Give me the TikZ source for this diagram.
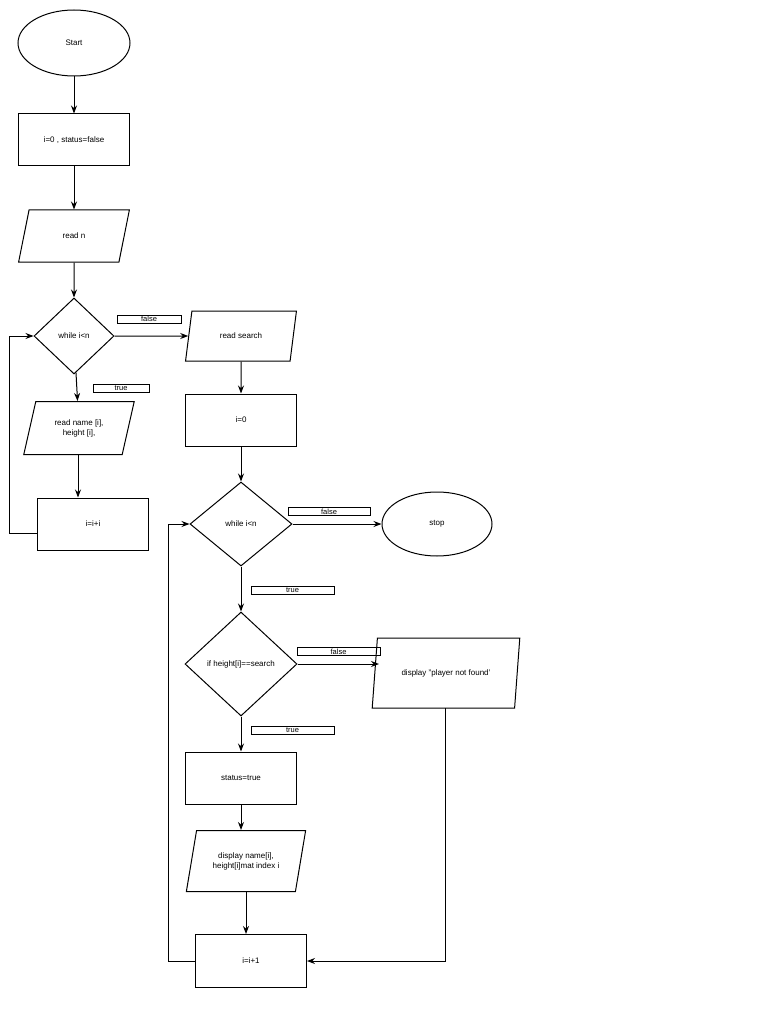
\documentclass[tikz,border=0pt]{standalone}
\usepackage{fontspec}
\setmainfont{Liberation Sans}
\usetikzlibrary{arrows.meta,shapes.geometric,positioning}

\tikzset{
  base/.style={draw, line width=1pt, font=\fontsize{8}{10}\selectfont, align=center, inner sep=1pt},
  term/.style={base, ellipse, minimum width=112pt, minimum height=66pt},
  proc/.style={base, rectangle, minimum width=111pt, minimum height=52pt},
  io/.style={base, trapezium, trapezium left angle=70, trapezium right angle=110,
    trapezium stretches=true, minimum width=111pt, minimum height=52pt},
  dec/.style={base, diamond, inner sep=0pt},
  tag/.style={draw, line width=0.8pt, font=\fontsize{7.5}{8}\selectfont, inner sep=0pt,
    minimum height=8pt, text depth=0pt},
  flow/.style={line width=1pt, -{Stealth[length=8pt,width=6pt]}}
}

\begin{document}
\begin{tikzpicture}[x=1pt,y=-1pt]
  \useasboundingbox (0,0) rectangle (768,1024);

  % left column
  \node[term] (start) at (74,43) {Start};
  \node[proc] (init) at (74,140) {i=0 , status=false};
  \node[io] (readn) at (74,236) {read n};
  \node[dec, minimum width=80pt, minimum height=76pt, label={center:\fontsize{8}{10}\selectfont while i\textless n}] (loopa) at (74,336) {};
  \node[io, minimum height=53pt] (readname) at (79,428) {read name [i],\\height [i],};
  \node[proc] (inca) at (93,524) {i=i+i};

  % right column
  \node[io, minimum height=50pt] (readsearch) at (241,336) {read search};
  \node[proc] (reset) at (241,420) {i=0};
  \node[dec, minimum width=102pt, minimum height=84pt, label={center:\fontsize{8}{10}\selectfont while i\textless n}] (loopb) at (241,524) {};
  \node[term, minimum width=110pt, minimum height=64pt] (stop) at (437,524) {stop};
  \node[dec, minimum width=112pt, minimum height=104pt, label={center:\fontsize{8}{10}\selectfont if height[i]==search}] (check) at (241,664) {};
  \node[io, minimum width=148pt, minimum height=70pt] (notfound) at (446,673) {display "player not found'};
  \node[proc] (found) at (241,778) {status=true};
  \node[io, minimum width=120pt, minimum height=61pt] (show) at (246,861) {display name[i],\\height[i]mat index i};
  \node[proc, minimum height=53pt] (incb) at (251,961) {i=i+1};

  % branch tags
  \node[tag, minimum width=64pt] (fa) at (149,319) {false};
  \node[tag, minimum width=56pt] (ta) at (121,388.5) {true};
  \node[tag, minimum width=82pt] (fb) at (329,511.5) {false};
  \node[tag, minimum width=83pt] (tb) at (292.5,590) {true};
  \node[tag, minimum width=83pt] (fc) at (338.5,651.5) {false};
  \node[tag, minimum width=83pt] (tc) at (292.5,730) {true};

  % connectors
  \draw[flow] (start) -- (init);
  \draw[flow] (init) -- (readn);
  \draw[flow] (readn) -- (loopa);
  \draw[flow] (loopa) -- (readname);
  \draw[flow] (readname.south -| inca.north west) ++(41,0) coordinate (ra) -- (ra |- inca.north);
  \draw[flow] (inca.west |- 0,533) -- (9,533) |- (loopa.west);
  \draw[flow] (loopa.east) -- (readsearch.west);
  \draw[flow] (readsearch) -- (reset);
  \draw[flow] (reset) -- (loopb);
  \draw[flow] (loopb.east) -- (stop.west);
  \draw[flow] (loopb) -- (check);
  \draw[flow] (check.east) -- (379,664);
  \draw[flow] (check) -- (found);
  \draw[flow] (found) -- (found |- show.north);
  \draw[flow] (show.south) -- (show.south |- incb.north);
  \draw[flow] (incb.west) -- (168,961) |- (loopb.west);
  \draw[flow] (445,708) |- (incb.east);
\end{tikzpicture}
\end{document}
